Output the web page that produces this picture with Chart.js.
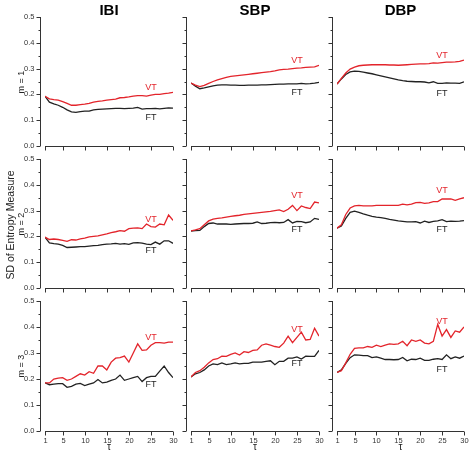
<!DOCTYPE html>
<html><head><meta charset="utf-8">
<script src="https://cdn.jsdelivr.net/npm/chart.js@4"></script>
<style>
body{margin:0;background:#fff;width:474px;height:457px;position:relative;overflow:hidden;font-family:"Liberation Sans",Arial,sans-serif}
canvas{position:absolute;left:0;top:0}
.t{position:absolute;font-weight:bold;font-size:15px;transform:translateX(-50%)}
.r{position:absolute;font-size:9px;transform:translate(-50%,-50%) rotate(-90deg);white-space:nowrap;color:#222}
.tau{position:absolute;font-size:10px;transform:translateX(-50%);color:#222}
</style></head><body>
<script>
const tau = Array.from({length:30},(_,i)=>i+1);
const measures = ["IBI","SBP","DBP"];
const rowLabels = ["m = 1","m = 2","m = 3"];
const yTicks = [0.0,0.1,0.2,0.3,0.4,0.5];
const xTicks = [1,5,10,15,20,25,30];

const ibi_m1_VT=[0.193,0.183,0.180,0.178,0.172,0.165,0.158,0.158,0.160,0.162,0.165,0.170,0.173,0.175,0.178,0.180,0.182,0.187,0.188,0.190,0.193,0.195,0.195,0.193,0.197,0.200,0.200,0.203,0.205,0.208];
const ibi_m1_FT=[0.193,0.170,0.163,0.158,0.150,0.140,0.132,0.130,0.133,0.135,0.135,0.140,0.142,0.143,0.144,0.145,0.146,0.146,0.145,0.146,0.147,0.150,0.143,0.145,0.145,0.146,0.144,0.146,0.148,0.147];
const sbp_m1_VT=[0.244,0.236,0.230,0.235,0.243,0.250,0.256,0.261,0.266,0.270,0.272,0.274,0.276,0.278,0.280,0.282,0.284,0.286,0.288,0.291,0.295,0.297,0.298,0.300,0.302,0.303,0.305,0.306,0.307,0.313];
const sbp_m1_FT=[0.244,0.232,0.222,0.225,0.229,0.233,0.236,0.237,0.237,0.236,0.236,0.235,0.235,0.236,0.236,0.236,0.237,0.237,0.238,0.239,0.240,0.240,0.241,0.241,0.241,0.243,0.241,0.242,0.244,0.247];
const dbp_m1_VT=[0.240,0.262,0.283,0.298,0.306,0.311,0.313,0.314,0.315,0.315,0.315,0.315,0.314,0.314,0.313,0.314,0.315,0.316,0.317,0.318,0.318,0.319,0.322,0.321,0.323,0.325,0.325,0.326,0.328,0.333];
const dbp_m1_FT=[0.240,0.260,0.277,0.287,0.290,0.289,0.286,0.283,0.280,0.276,0.272,0.268,0.264,0.260,0.256,0.253,0.251,0.250,0.249,0.249,0.248,0.245,0.249,0.243,0.243,0.245,0.244,0.244,0.243,0.249];
const ibi_m2_VT=[0.197,0.188,0.190,0.188,0.185,0.181,0.187,0.186,0.190,0.193,0.198,0.200,0.202,0.206,0.210,0.215,0.218,0.222,0.220,0.230,0.232,0.233,0.230,0.248,0.238,0.236,0.248,0.245,0.283,0.262];
const ibi_m2_FT=[0.197,0.175,0.172,0.170,0.165,0.157,0.158,0.159,0.160,0.160,0.162,0.164,0.165,0.168,0.170,0.171,0.173,0.170,0.172,0.169,0.175,0.176,0.174,0.170,0.168,0.178,0.170,0.183,0.183,0.173];
const sbp_m2_VT=[0.221,0.225,0.230,0.245,0.260,0.267,0.270,0.272,0.275,0.278,0.280,0.282,0.285,0.287,0.289,0.291,0.293,0.295,0.297,0.300,0.303,0.296,0.305,0.320,0.300,0.318,0.312,0.308,0.333,0.330];
const sbp_m2_FT=[0.221,0.222,0.223,0.238,0.250,0.252,0.248,0.248,0.248,0.247,0.248,0.249,0.250,0.250,0.251,0.256,0.250,0.251,0.253,0.254,0.253,0.254,0.265,0.252,0.258,0.257,0.253,0.256,0.270,0.266];
const dbp_m2_VT=[0.232,0.245,0.285,0.310,0.318,0.320,0.318,0.318,0.318,0.320,0.320,0.320,0.320,0.320,0.320,0.325,0.322,0.325,0.331,0.332,0.328,0.330,0.335,0.335,0.345,0.345,0.345,0.340,0.345,0.350];
const dbp_m2_FT=[0.232,0.240,0.270,0.293,0.298,0.293,0.287,0.282,0.278,0.275,0.273,0.270,0.266,0.263,0.260,0.258,0.256,0.256,0.257,0.252,0.259,0.254,0.258,0.260,0.265,0.257,0.259,0.258,0.259,0.261];
const ibi_m3_VT=[0.185,0.185,0.200,0.203,0.205,0.195,0.200,0.210,0.220,0.215,0.228,0.222,0.250,0.250,0.235,0.265,0.280,0.282,0.288,0.265,0.300,0.335,0.310,0.312,0.330,0.340,0.340,0.338,0.342,0.342];
const ibi_m3_FT=[0.185,0.178,0.180,0.182,0.182,0.168,0.172,0.180,0.183,0.175,0.180,0.185,0.198,0.185,0.188,0.195,0.200,0.215,0.195,0.200,0.205,0.210,0.190,0.205,0.210,0.210,0.230,0.250,0.225,0.205];
const sbp_m3_VT=[0.208,0.225,0.232,0.245,0.262,0.275,0.278,0.288,0.287,0.295,0.300,0.292,0.305,0.302,0.310,0.312,0.330,0.335,0.330,0.325,0.322,0.338,0.365,0.340,0.360,0.380,0.350,0.352,0.395,0.365];
const sbp_m3_FT=[0.208,0.220,0.225,0.235,0.250,0.258,0.255,0.262,0.255,0.258,0.262,0.258,0.260,0.260,0.265,0.265,0.265,0.268,0.270,0.255,0.268,0.268,0.280,0.280,0.285,0.277,0.288,0.287,0.287,0.310];
const dbp_m3_VT=[0.225,0.232,0.262,0.295,0.318,0.320,0.320,0.325,0.322,0.330,0.325,0.330,0.335,0.333,0.335,0.345,0.328,0.350,0.345,0.350,0.338,0.335,0.345,0.410,0.365,0.390,0.360,0.385,0.380,0.400];
const dbp_m3_FT=[0.225,0.235,0.260,0.282,0.293,0.292,0.290,0.290,0.282,0.285,0.280,0.275,0.275,0.274,0.275,0.283,0.270,0.276,0.275,0.280,0.272,0.272,0.276,0.278,0.275,0.293,0.278,0.285,0.280,0.288];

const series = [
 [[ibi_m1_VT,ibi_m1_FT],[sbp_m1_VT,sbp_m1_FT],[dbp_m1_VT,dbp_m1_FT]],
 [[ibi_m2_VT,ibi_m2_FT],[sbp_m2_VT,sbp_m2_FT],[dbp_m2_VT,dbp_m2_FT]],
 [[ibi_m3_VT,ibi_m3_FT],[sbp_m3_VT,sbp_m3_FT],[dbp_m3_VT,dbp_m3_FT]]];
// label anchors in data coords [tau, value] for VT, FT
const labelPos = [
 [[[25,0.228],[25,0.112]],[[25,0.333],[25,0.209]],[[25,0.35],[25,0.205]]],
 [[[25,0.267],[25,0.147]],[[25,0.357],[25,0.225]],[[25,0.376],[25,0.225]]],
 [[[25,0.358],[25,0.18]],[[25,0.392],[25,0.258]],[[25,0.423],[25,0.238]]]];

// layout
const colX = [[45,173],[191,319],[337,464]];
const rowY = [[17,146],[159,288],[301,431]];
const W=474,H=457, RED="#e3242b", BLK="#222";

const axesPlugin = {
 id:'axes',
 afterDraw(chart){
  const o=chart.options.plugins.axes; const ctx=chart.ctx;
  const xs=chart.scales.x, ys=chart.scales.y;
  ctx.save(); ctx.strokeStyle="#333"; ctx.lineWidth=1; ctx.fillStyle="#333";
  const ax=Math.round(xs.getPixelForValue(1))-4.5;
  const y0=ys.getPixelForValue(0), y5=ys.getPixelForValue(0.5);
  ctx.beginPath(); ctx.moveTo(ax,y0); ctx.lineTo(ax,y5); ctx.stroke();
  ctx.font="7.5px 'Liberation Sans', Arial"; ctx.textAlign="right"; ctx.textBaseline="middle";
  for(let v=0; v<=0.5001; v+=0.05){
    const p=Math.round(ys.getPixelForValue(v))+0.5;
    const major=Math.abs(v*10-Math.round(v*10))<1e-6;
    ctx.beginPath(); ctx.moveTo(ax,p); ctx.lineTo(ax-(major?4:2),p); ctx.stroke();
  }
  if(o.yLabels) yTicks.forEach(v=>ctx.fillText(v.toFixed(1),ax-6,ys.getPixelForValue(v)));
  const by=Math.round(y0)+0.5;
  ctx.beginPath(); ctx.moveTo(xs.getPixelForValue(1),by); ctx.lineTo(xs.getPixelForValue(30),by); ctx.stroke();
  ctx.textAlign="center"; ctx.textBaseline="top";
  xTicks.forEach(t=>{const p=Math.round(xs.getPixelForValue(t))+0.5;
    ctx.beginPath(); ctx.moveTo(p,by); ctx.lineTo(p,by+4); ctx.stroke();
    if(o.xLabels) ctx.fillText(String(t),p,by+6);});
  ctx.font="9px 'Liberation Sans', Arial"; ctx.textAlign="center"; ctx.textBaseline="middle";
  ctx.fillStyle=RED; ctx.fillText("VT",xs.getPixelForValue(o.lab[0][0]),ys.getPixelForValue(o.lab[0][1]));
  ctx.fillStyle=BLK; ctx.fillText("FT",xs.getPixelForValue(o.lab[1][0]),ys.getPixelForValue(o.lab[1][1]));
  ctx.restore();
 }};

for(let r=0;r<3;r++) for(let c=0;c<3;c++){
  const cv=document.createElement('canvas'); cv.width=W; cv.height=H;
  cv.style.width=W+'px'; cv.style.height=H+'px'; document.body.appendChild(cv);
  const [vt,ft]=series[r][c];
  new Chart(cv,{type:'line',
   data:{labels:tau,datasets:[
     {data:vt,borderColor:RED,borderWidth:1.3,pointRadius:0,tension:0},
     {data:ft,borderColor:BLK,borderWidth:1.3,pointRadius:0,tension:0}]},
   options:{responsive:false,animation:false,devicePixelRatio:1,
     layout:{padding:{left:colX[c][0],right:W-colX[c][1],top:rowY[r][0],bottom:H-rowY[r][1]}},
     scales:{x:{type:'linear',min:1,max:30,display:false},y:{min:0,max:0.5,display:false}},
     plugins:{legend:{display:false},tooltip:{enabled:false},
       axes:{yLabels:c===0,xLabels:r===2,lab:labelPos[r][c]}}},
   plugins:[axesPlugin]});
}
function add(cls,txt,x,y){const d=document.createElement('div');d.className=cls;d.textContent=txt;d.style.left=x+'px';d.style.top=y+'px';document.body.appendChild(d);}
measures.forEach((m,c)=>add('t',m,(colX[c][0]+colX[c][1])/2,1));
rowLabels.forEach((m,r)=>add('r',m,21,(rowY[r][0]+rowY[r][1])/2));
add('r',"SD of Entropy Measure",10,225);
document.querySelectorAll('.r')[3].style.fontSize="10.5px";
colX.forEach(([a,b])=>add('tau',"τ",(a+b)/2,441));
</script></body></html>
